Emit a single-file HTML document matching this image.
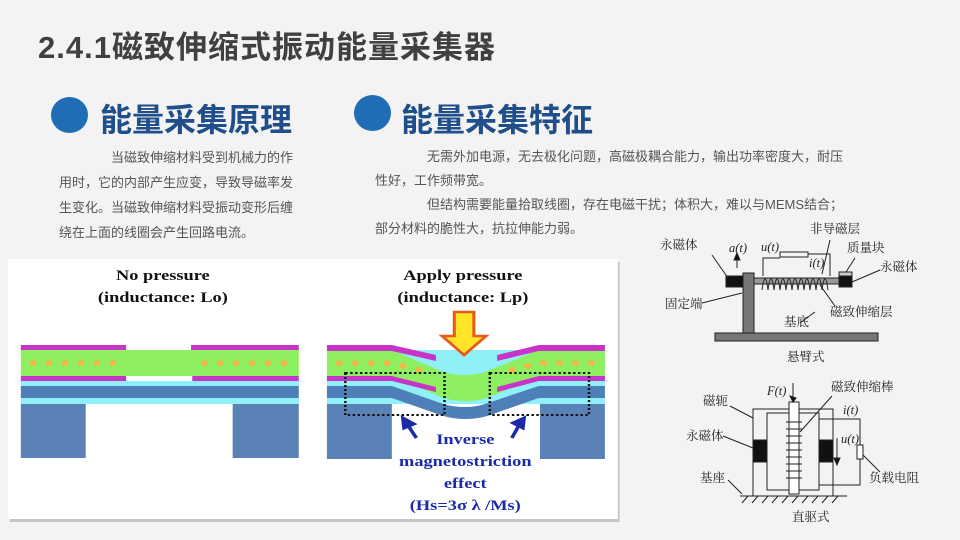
<!DOCTYPE html>
<html><head><meta charset="utf-8"><style>
body{margin:0;width:960px;height:540px;background:#f3f3f3;position:relative;overflow:hidden;font-family:"Liberation Sans","Noto Sans CJK SC",sans-serif}
.t{position:absolute;white-space:nowrap}
.title{left:38px;top:22px;font-size:31px;font-weight:bold;color:#404040;letter-spacing:1px}
.h{font-size:32px;font-weight:bold;color:#1f4e8a;top:95px}
.c{position:absolute;border-radius:50%;background:#1f6db5;width:37px;height:36px}
.p{font-size:13px;color:#555}
</style></head><body>
<div class="t title">2.4.1磁致伸缩式振动能量采集器</div>
<div class="c" style="left:51px;top:97px"></div>
<div class="t h" style="left:100px">能量采集原理</div>
<div class="c" style="left:354px;top:95px"></div>
<div class="t h" style="left:401px">能量采集特征</div>
<div class="t p" style="left:59px;top:145px;line-height:25px">　　　　当磁致伸缩材料受到机械力的作<br>用时，它的内部产生应变，导致导磁率发<br>生变化。当磁致伸缩材料受振动变形后缠<br>绕在上面的线圈会产生回路电流。</div>
<div class="t p" style="left:375px;top:145px;line-height:24px">　　　　无需外加电源，无去极化问题，高磁极耦合能力，输出功率密度大，耐压<br>性好，工作频带宽。<br>　　　　但结构需要能量拾取线圈，存在电磁干扰；体积大，难以与MEMS结合；<br>部分材料的脆性大，抗拉伸能力弱。</div>

<svg style="position:absolute;left:0;top:0" width="960" height="540">
<g transform="scale(1.2245,1)">
<rect x="8" y="262" width="498" height="260" fill="#999" opacity=".5"/>
<rect x="6.5" y="259" width="498" height="260" fill="#fff"/>
<g font-family="Liberation Serif,serif" font-weight="bold" text-anchor="middle" font-size="15" fill="#111">
<text x="133" y="280">No pressure</text><text x="133" y="302">(inductance: Lo)</text>
<text x="378" y="280">Apply pressure</text><text x="378" y="302">(inductance: Lp)</text>
</g>
<rect x="17" y="345" width="227" height="5" fill="#c834c8"/>
<rect x="103" y="345" width="53" height="5" fill="#fff"/>
<rect x="17" y="350" width="227" height="26" fill="#8ef060"/>
<rect x="17" y="376" width="86" height="5" fill="#c834c8"/><rect x="157" y="376" width="87" height="5" fill="#c834c8"/>
<rect x="17" y="381" width="227" height="5" fill="#8ff0f8"/>
<rect x="17" y="386" width="227" height="12" fill="#4f7fb8"/>
<rect x="17" y="398" width="227" height="6" fill="#8ff0f8"/>
<rect x="17" y="404" width="53" height="54" fill="#5a82b6"/><rect x="190" y="404" width="54" height="54" fill="#5a82b6"/>
<g fill="#f0b848"><circle cx="27" cy="363" r="3"/><circle cx="40" cy="363" r="3"/><circle cx="53" cy="363" r="3"/><circle cx="66" cy="363" r="3"/><circle cx="79" cy="363" r="3"/><circle cx="92" cy="363" r="3"/>
<circle cx="167" cy="363" r="3"/><circle cx="180" cy="363" r="3"/><circle cx="193" cy="363" r="3"/><circle cx="206" cy="363" r="3"/><circle cx="219" cy="363" r="3"/><circle cx="232" cy="363" r="3"/></g>
<path d="M267 350 H494 V404 H267Z" fill="#8ff0f8"/>
<path d="M267 350 H320 L362 372 Q380 378 396 372 L440 350 H494 V376 H440 L398 398 Q380 404 362 398 L320 376 H267Z" fill="#8ef060"/>
<path d="M267 386 H320 L362 404 Q380 410 396 404 L440 386 H494 V398 H440 L398 416 Q380 422 362 416 L320 398 H267Z" fill="#4f7fb8"/>
<rect x="267" y="404" width="53" height="55" fill="#5a82b6"/><rect x="441" y="404" width="53" height="55" fill="#5a82b6"/>
<path d="M267 345 H320 L356 355 V361 L320 351 H267Z" fill="#c834c8"/>
<path d="M406 355 L440 345 H494 V351 H440 L406 361Z" fill="#c834c8"/>
<path d="M267 376 H320 L356 387 V392 L320 381 H267Z" fill="#c834c8"/>
<path d="M406 387 L440 376 H494 V381 H440 L406 392Z" fill="#c834c8"/>
<g fill="#f0b848"><circle cx="277" cy="363" r="3"/><circle cx="290" cy="363" r="3"/><circle cx="303" cy="363" r="3"/><circle cx="316" cy="363" r="3"/><circle cx="329" cy="366" r="3"/><circle cx="342" cy="370" r="3"/>
<circle cx="418" cy="370" r="3"/><circle cx="431" cy="366" r="3"/><circle cx="444" cy="363" r="3"/><circle cx="457" cy="363" r="3"/><circle cx="470" cy="363" r="3"/><circle cx="483" cy="363" r="3"/></g>
<rect x="282" y="373" width="81" height="42" fill="none" stroke="#111" stroke-width="2" stroke-dasharray="2 2"/>
<rect x="400" y="373" width="81" height="42" fill="none" stroke="#111" stroke-width="2" stroke-dasharray="2 2"/>
<path d="M371 312 H387 V336 H397 L379 355 L361 336 H371Z" fill="#ffe428" stroke="#e85a1a" stroke-width="2.5"/>
<g stroke="#1a2aa8" stroke-width="3" fill="#1a2aa8"><line x1="340" y1="438" x2="333" y2="425"/><path d="M329 418 L338 424 L330 428Z"/>
<line x1="418" y1="438" x2="424" y2="425"/><path d="M428 418 L419 423 L427 428Z"/></g>
<g font-family="Liberation Serif,serif" font-weight="bold" text-anchor="middle" font-size="15" fill="#1a2aa8">
<text x="380" y="444">Inverse</text><text x="380" y="466">magnetostriction</text><text x="380" y="488">effect</text><text x="380" y="510">(Hs=3σ λ /Ms)</text></g>
</g>

<g stroke="#222" stroke-width="1" fill="none">
<rect x="715" y="333" width="163" height="8" fill="#777"/>
<rect x="743" y="273" width="11" height="60" fill="#777"/>
<rect x="754" y="278" width="86" height="6" fill="#999"/>
<rect x="726" y="276" width="17" height="11" fill="#111"/>
<rect x="839" y="276" width="13" height="11" fill="#111"/>
<rect x="839" y="272" width="13" height="4" fill="#ccc"/>
<path d="M762 290 q3 -22 6 0 q3 -22 6 0 q3 -22 6 0 q3 -22 6 0 q3 -22 6 0 q3 -22 6 0 q3 -22 6 0 q3 -22 6 0 q3 -22 6 0 q3 -22 6 0 q3 -22 6 0"/>
<path d="M763 276 V258 H780 M808 254 H830 V276"/>
<rect x="780" y="252" width="28" height="5"/>
<path d="M737 268 V258"/><path d="M734 260 L737 253 L740 260Z" fill="#111"/>
<path d="M712 255 L728 278 M702 303 L742 293 M800 323 L815 312 M835 306 L820 285 M855 258 L846 272 M880 270 L852 282 M830 240 L822 274"/>
</g>
<g font-family="Liberation Serif,'Noto Serif CJK SC',serif" font-size="12.5" fill="#222">
<text x="660" y="249">永磁体</text><text x="729" y="252" font-style="italic">a(t)</text>
<text x="761" y="251" font-style="italic">u(t)</text><text x="809" y="267" font-style="italic">i(t)</text>
<text x="810" y="233">非导磁层</text><text x="847" y="252">质量块</text><text x="880" y="271">永磁体</text>
<text x="665" y="308">固定端</text><text x="830" y="316">磁致伸缩层</text><text x="784" y="326">基底</text>
<text x="787" y="361">悬臂式</text>
</g>
<g stroke="#222" stroke-width="1" fill="none">
<rect x="753" y="409" width="80" height="87"/>
<rect x="767" y="413" width="52" height="77"/>
<rect x="789" y="402" width="10" height="92" fill="#fff"/>
<rect x="753" y="440" width="14" height="22" fill="#111"/>
<rect x="819" y="440" width="14" height="22" fill="#111"/>
<path d="M786 422 h16 M786 429 h16 M786 436 h16 M786 443 h16 M786 450 h16 M786 457 h16 M786 464 h16 M786 471 h16 M786 478 h16"/>
<path d="M819 419 H860 V485 H819"/>
<rect x="857" y="445" width="6" height="14" fill="#fff"/>
<path d="M793 383 V398"/><path d="M790 396 L793 402 L796 398Z" fill="#111"/>
<path d="M837 438 V460"/><path d="M834 458 L837 465 L840 458Z" fill="#111"/>
<path d="M740 496 H847 M742 503 l6 -7 M752 503 l6 -7 M762 503 l6 -7 M772 503 l6 -7 M782 503 l6 -7 M792 503 l6 -7 M802 503 l6 -7 M812 503 l6 -7 M822 503 l6 -7 M832 503 l6 -7"/>
<path d="M730 406 L753 418 M723 436 L753 448 M728 480 L742 494 M832 396 L800 432 M880 472 L863 455"/>
</g>
<g font-family="Liberation Serif,'Noto Serif CJK SC',serif" font-size="12.5" fill="#222">
<text x="767" y="395" font-style="italic">F(t)</text><text x="831" y="391">磁致伸缩棒</text>
<text x="703" y="405">磁轭</text><text x="843" y="414" font-style="italic">i(t)</text>
<text x="686" y="440">永磁体</text><text x="841" y="443" font-style="italic">u(t)</text>
<text x="700" y="482">基座</text><text x="869" y="482">负载电阻</text>
<text x="792" y="521">直驱式</text>
</g>
</svg>
</body></html>
